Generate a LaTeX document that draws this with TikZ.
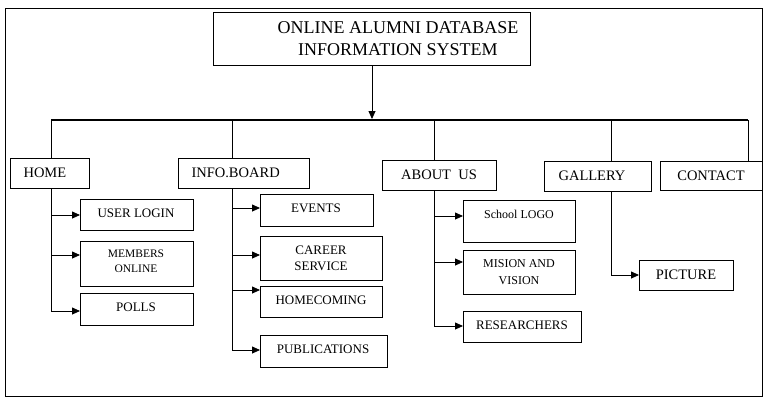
\documentclass[tikz,border=0pt]{standalone}
\usepackage{fontspec}
\setmainfont{Liberation Serif}
\usetikzlibrary{arrows.meta}
\begin{document}
\begin{tikzpicture}[x=1pt,y=-1pt,
  bx/.style={draw,line width=0.8pt,inner sep=0pt},
  lbl/.style={font=\fontsize{14.5}{16}\selectfont,align=center},
  sm/.style={font=\fontsize{13}{16}\selectfont,align=center},
  ar/.style={line width=0.8pt,-{Triangle[length=8pt,width=7pt]}},
  ln/.style={line width=0.8pt}]
\useasboundingbox (0,0) rectangle (768,400);
\draw[line width=0.6pt] (5,8) rectangle (762,396);
% title
\draw[bx] (213,12) rectangle (530,65);
\node[font=\fontsize{18}{22}\selectfont,align=center] (title) at (398,38.5) {ONLINE ALUMNI DATABASE\\INFORMATION SYSTEM};
\coordinate (tb) at (372,65);
\coordinate (bus) at (372,119);
\draw[ar] (tb) -- (bus);
\draw[line width=1.6pt] (51,120) -- (748,120);
% level 1
\draw[bx] (10,158) rectangle (89,188); \node[lbl,anchor=west] (home) at (20,173) {HOME};
\draw[bx] (178,158) rectangle (309,188); \node[lbl,anchor=west] (info) at (188,173) {INFO.BOARD};
\draw[bx] (382,160) rectangle (496,190); \node[lbl] (about) at (439,175) {ABOUT\ \ US};
\draw[bx] (544,161) rectangle (651,191); \node[lbl] (gal) at (592,176) {GALLERY};
\draw[bx] (660,161) rectangle (762,190); \node[lbl] (con) at (711,176) {CONTACT};
\draw[ln] (51,120) -- (51,158);
\draw[ln] (232,120) -- (232,158);
\draw[ln] (434,120) -- (434,160);
\draw[ln] (611,120) -- (611,161);
\draw[ln] (748,120) -- (748,161);
% home children
\draw[bx] (80,199) rectangle (193,230); \node[sm] (ul) at (136,213) {USER LOGIN};
\draw[bx] (80,241) rectangle (193,286); \node[font=\fontsize{11.5}{15}\selectfont,align=center] (mo) at (136,261) {MEMBERS\\ONLINE};
\draw[bx] (80,293) rectangle (193,325); \node[sm] (po) at (136,307) {POLLS};
\draw[ln] (51,188) -- (51,311);
\draw[ar] (51,215) -- (80,215);
\draw[ar] (51,255) -- (80,255);
\draw[ar] (51,311) -- (80,311);
% info children
\draw[bx] (260,194) rectangle (373,226); \node[sm] (ev) at (316,208) {EVENTS};
\draw[bx] (260,236) rectangle (382,280); \node[sm] (ca) at (321,258) {CAREER\\SERVICE};
\draw[bx] (260,286) rectangle (382,317); \node[sm] (hc) at (321,300) {HOMECOMING};
\draw[bx] (260,335) rectangle (387,367); \node[sm] (pu) at (323,349) {PUBLICATIONS};
\draw[ln] (232,188) -- (232,350);
\draw[ar] (232,208) -- (260,208);
\draw[ar] (232,255) -- (260,255);
\draw[ar] (232,290) -- (260,290);
\draw[ar] (232,350) -- (260,350);
% about children
\draw[bx] (463,200) rectangle (575,242); \node[font=\fontsize{12}{14}\selectfont] (sl) at (519,214) {School LOGO};
\draw[bx] (463,250) rectangle (575,294); \node[font=\fontsize{12}{17}\selectfont,align=center] (mv) at (519,272) {MISION AND\\VISION};
\draw[bx] (463,311) rectangle (581,342); \node[sm] (re) at (522,325) {RESEARCHERS};
\draw[ln] (434,190) -- (434,326);
\draw[ar] (434,216) -- (463,216);
\draw[ar] (434,262) -- (463,262);
\draw[ar] (434,326) -- (463,326);
% gallery child
\draw[bx] (639,260) rectangle (733,290); \node[lbl] (pi) at (686,275) {PICTURE};
\draw[ln] (611,191) -- (611,275);
\draw[ar] (611,275) -- (639,275);
\end{tikzpicture}
\end{document}
